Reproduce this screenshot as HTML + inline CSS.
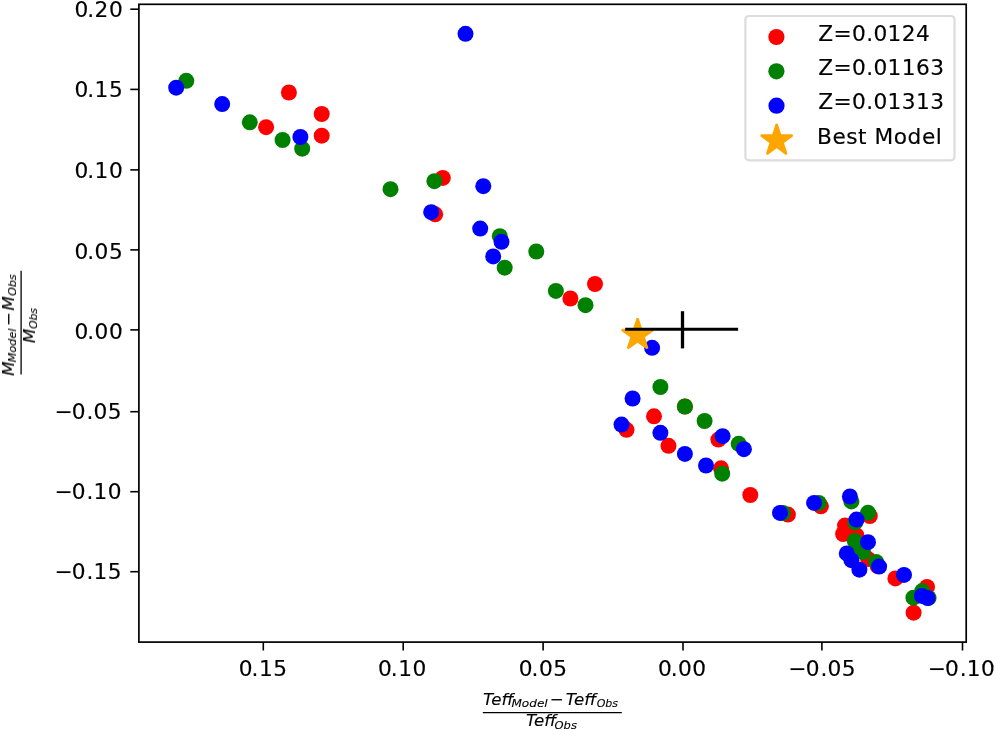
<!DOCTYPE html>
<html lang="en"><head><meta charset="utf-8"><title>Scatter plot</title>
<style>
html,body{margin:0;padding:0;background:#fff}
svg{display:block}
text{font-family:"DejaVu Sans","Liberation Sans",sans-serif;fill:#000}
.t{font-size:21.7px;letter-spacing:0.08px;stroke:#000;stroke-width:0.15px}
.m{font-style:oblique;font-size:16.7px;stroke:#000;stroke-width:0.1px}
.s{font-size:10.0px}
</style></head>
<body>
<svg width="997" height="731" viewBox="0 0 997 731">
<rect width="997" height="731" fill="#fff"/>
<defs><filter id="soft" x="0" y="0" width="997" height="731" filterUnits="userSpaceOnUse"><feGaussianBlur stdDeviation="0.7"/></filter></defs>
<g filter="url(#soft)">
<g fill="#ff0000"><circle cx="288.9" cy="92.5" r="8.0"/><circle cx="321.7" cy="114.0" r="8.0"/><circle cx="321.7" cy="135.7" r="8.0"/><circle cx="266.1" cy="127.2" r="8.0"/><circle cx="442.8" cy="177.9" r="8.0"/><circle cx="435.2" cy="214.3" r="8.0"/><circle cx="595.0" cy="284.0" r="8.0"/><circle cx="570.4" cy="298.5" r="8.0"/><circle cx="684.9" cy="406.5" r="8.0"/><circle cx="654.0" cy="416.3" r="8.0"/><circle cx="626.5" cy="429.8" r="8.0"/><circle cx="718.4" cy="439.6" r="8.0"/><circle cx="668.5" cy="445.8" r="8.0"/><circle cx="721.0" cy="468.3" r="8.0"/><circle cx="750.3" cy="495.0" r="8.0"/><circle cx="787.9" cy="514.6" r="8.0"/><circle cx="820.9" cy="506.3" r="8.0"/><circle cx="869.8" cy="516.0" r="8.0"/><circle cx="845.0" cy="525.6" r="8.0"/><circle cx="843.1" cy="534.0" r="8.0"/><circle cx="856.5" cy="535.5" r="8.0"/><circle cx="868.1" cy="559.1" r="8.0"/><circle cx="877.6" cy="566.1" r="8.0"/><circle cx="895.4" cy="578.4" r="8.0"/><circle cx="927.0" cy="587.0" r="8.0"/><circle cx="913.6" cy="612.7" r="8.0"/></g>
<g fill="#008000"><circle cx="186.3" cy="80.8" r="8.0"/><circle cx="249.8" cy="122.3" r="8.0"/><circle cx="282.6" cy="140.0" r="8.0"/><circle cx="302.2" cy="148.7" r="8.0"/><circle cx="390.5" cy="189.2" r="8.0"/><circle cx="434.4" cy="181.2" r="8.0"/><circle cx="499.8" cy="236.2" r="8.0"/><circle cx="536.3" cy="251.5" r="8.0"/><circle cx="504.7" cy="267.7" r="8.0"/><circle cx="555.9" cy="290.9" r="8.0"/><circle cx="585.5" cy="305.2" r="8.0"/><circle cx="660.4" cy="387.0" r="8.0"/><circle cx="684.9" cy="406.5" r="8.0"/><circle cx="704.6" cy="421.0" r="8.0"/><circle cx="738.7" cy="443.8" r="8.0"/><circle cx="722.2" cy="473.7" r="8.0"/><circle cx="783.0" cy="513.1" r="8.0"/><circle cx="818.8" cy="502.9" r="8.0"/><circle cx="851.4" cy="501.4" r="8.0"/><circle cx="868.0" cy="512.8" r="8.0"/><circle cx="855.2" cy="522.4" r="8.0"/><circle cx="854.8" cy="541.0" r="8.0"/><circle cx="860.1" cy="547.5" r="8.0"/><circle cx="863.0" cy="552.0" r="8.0"/><circle cx="876.1" cy="561.9" r="8.0"/><circle cx="922.1" cy="591.1" r="8.0"/><circle cx="913.4" cy="597.7" r="8.0"/><circle cx="928.6" cy="597.9" r="8.0"/></g>
<g fill="#0000ff"><circle cx="176.2" cy="87.7" r="8.0"/><circle cx="222.2" cy="104.1" r="8.0"/><circle cx="300.4" cy="137.0" r="8.0"/><circle cx="465.5" cy="33.8" r="8.0"/><circle cx="483.3" cy="186.2" r="8.0"/><circle cx="431.2" cy="212.2" r="8.0"/><circle cx="480.2" cy="228.6" r="8.0"/><circle cx="501.5" cy="241.8" r="8.0"/><circle cx="493.2" cy="256.4" r="8.0"/><circle cx="652.1" cy="347.8" r="8.0"/><circle cx="632.6" cy="398.5" r="8.0"/><circle cx="621.5" cy="424.6" r="8.0"/><circle cx="660.4" cy="432.8" r="8.0"/><circle cx="722.6" cy="436.2" r="8.0"/><circle cx="743.9" cy="449.2" r="8.0"/><circle cx="684.9" cy="453.9" r="8.0"/><circle cx="706.0" cy="465.5" r="8.0"/><circle cx="780.0" cy="512.9" r="8.0"/><circle cx="814.1" cy="502.9" r="8.0"/><circle cx="849.9" cy="496.5" r="8.0"/><circle cx="856.5" cy="519.6" r="8.0"/><circle cx="868.0" cy="542.2" r="8.0"/><circle cx="846.8" cy="553.4" r="8.0"/><circle cx="851.4" cy="560.2" r="8.0"/><circle cx="859.4" cy="569.7" r="8.0"/><circle cx="879.1" cy="566.6" r="8.0"/><circle cx="904.0" cy="574.9" r="8.0"/><circle cx="921.9" cy="595.9" r="8.0"/><circle cx="927.6" cy="598.1" r="8.0"/></g>
<polygon fill="#ffa500" stroke="#ffa500" stroke-width="2.2" stroke-linejoin="bevel" points="637.60,318.30 641.33,329.77 653.39,329.77 643.63,336.86 647.36,348.33 637.60,341.24 627.84,348.33 631.57,336.86 621.81,329.77 633.87,329.77"/>
<g stroke="#000" stroke-linecap="butt"><line x1="625.2" y1="329.2" x2="738.1" y2="329.2" stroke-width="3"/><line x1="682.5" y1="311.2" x2="682.5" y2="348.4" stroke-width="3.3"/></g>
<rect x="138.9" y="4.3" width="827.3" height="637.8" fill="none" stroke="#000" stroke-width="1.7"/>
<g stroke="#000" stroke-width="1.6"><line x1="263.3" y1="642.1" x2="263.3" y2="650.5"/><line x1="403.2" y1="642.1" x2="403.2" y2="650.5"/><line x1="543.1" y1="642.1" x2="543.1" y2="650.5"/><line x1="683.0" y1="642.1" x2="683.0" y2="650.5"/><line x1="821.9" y1="642.1" x2="821.9" y2="650.5"/><line x1="962.5" y1="642.1" x2="962.5" y2="650.5"/><line x1="130.3" y1="9.2" x2="138.9" y2="9.2"/><line x1="130.3" y1="89.4" x2="138.9" y2="89.4"/><line x1="130.3" y1="169.9" x2="138.9" y2="169.9"/><line x1="130.3" y1="249.9" x2="138.9" y2="249.9"/><line x1="130.3" y1="329.9" x2="138.9" y2="329.9"/><line x1="130.3" y1="411.7" x2="138.9" y2="411.7"/><line x1="130.3" y1="491.7" x2="138.9" y2="491.7"/><line x1="130.3" y1="571.7" x2="138.9" y2="571.7"/></g>
<g class="t" text-anchor="middle"><text x="263.0" y="675.7" dx="0 -1.2 0.4 0.4">0.15</text><text x="402.2" y="675.7" dx="0 -1.2 0.4 0.4">0.10</text><text x="543.0" y="675.7" dx="0 -1.2 0.4 0.4">0.05</text><text x="682.1" y="675.7" dx="0 -1.2 0.4 0.4">0.00</text><text x="821.9" y="675.7" dx="0 -0.8 0.8 0 0.4">−0.05</text><text x="961.3" y="675.7" dx="0 -0.8 0.8 0 0.4">−0.10</text></g>
<g class="t" text-anchor="end"><text x="122.8" y="17.0" dx="0 -1.2 0.4 0.4">0.20</text><text x="122.8" y="97.0" dx="0 -1.2 0.4 0.4">0.15</text><text x="122.8" y="177.5" dx="0 -1.2 0.4 0.4">0.10</text><text x="122.8" y="259.3" dx="0 -1.2 0.4 0.4">0.05</text><text x="122.8" y="339.3" dx="0 -1.2 0.4 0.4">0.00</text><text x="121.7" y="419.1" dx="0 -0.8 0.8 0 0.4">−0.05</text><text x="121.7" y="499.1" dx="0 -0.8 0.8 0 0.4">−0.10</text><text x="121.7" y="579.1" dx="0 -0.8 0.8 0 0.4">−0.15</text></g>
<rect x="745.4" y="16" width="209.1" height="144.4" rx="3.6" fill="#fff" fill-opacity="0.8" stroke="#dcdcdc" stroke-width="2.2"/>
<circle cx="776.4" cy="37.0" r="8.1" fill="#ff0000"/><circle cx="776.4" cy="71.3" r="8.1" fill="#008000"/><circle cx="776.5" cy="105.7" r="8.1" fill="#0000ff"/>
<polygon fill="#ffa500" stroke="#ffa500" stroke-width="2.2" stroke-linejoin="bevel" points="776.70,124.00 780.43,135.47 792.49,135.47 782.73,142.56 786.46,154.03 776.70,146.94 766.94,154.03 770.67,142.56 760.91,135.47 772.97,135.47"/>
<g class="t" style="letter-spacing:0.38px"><text x="818.2" y="41">Z=0.0124</text><text x="818.2" y="75">Z=0.01163</text><text x="818.2" y="109">Z=0.01313</text><text x="817.0" y="143.5" style="letter-spacing:0.53px">Best Model</text></g>
<line x1="482.8" y1="712.6" x2="621.8" y2="712.6" stroke="#000" stroke-width="1.3"/>
<g><text class="m" x="483.0" y="705.0">Teff</text><text class="m s" x="511.4" y="706.9" textLength="36.3" lengthAdjust="spacingAndGlyphs">Model</text><text class="m" x="549.7" y="705.0">−</text><text class="m" x="565.8" y="705.0">Teff</text><text class="m s" x="596.7" y="706.9" textLength="21.4" lengthAdjust="spacingAndGlyphs">Obs</text><text class="m" x="525.9" y="726.2">Teff</text><text class="m s" x="554.6" y="729.2" textLength="22.3" lengthAdjust="spacingAndGlyphs">Obs</text></g>
<line x1="21.1" y1="270.7" x2="21.1" y2="374.6" stroke="#000" stroke-width="1.3"/>
<g transform="translate(0,374.6) rotate(-90)"><text class="m" x="-1.3" y="13.5">M</text><text class="m s" x="12.2" y="15.7" textLength="33.9" lengthAdjust="spacingAndGlyphs">Model</text><text class="m" x="48.6" y="13.5">−</text><text class="m" x="64.0" y="13.5">M</text><text class="m s" x="78.8" y="15.7" textLength="21.6" lengthAdjust="spacingAndGlyphs">Obs</text><text class="m" x="31.5" y="35.0">M</text><text class="m s" x="45.8" y="37.0" textLength="20.9" lengthAdjust="spacingAndGlyphs">Obs</text></g>
</g>
</svg>
</body></html>
